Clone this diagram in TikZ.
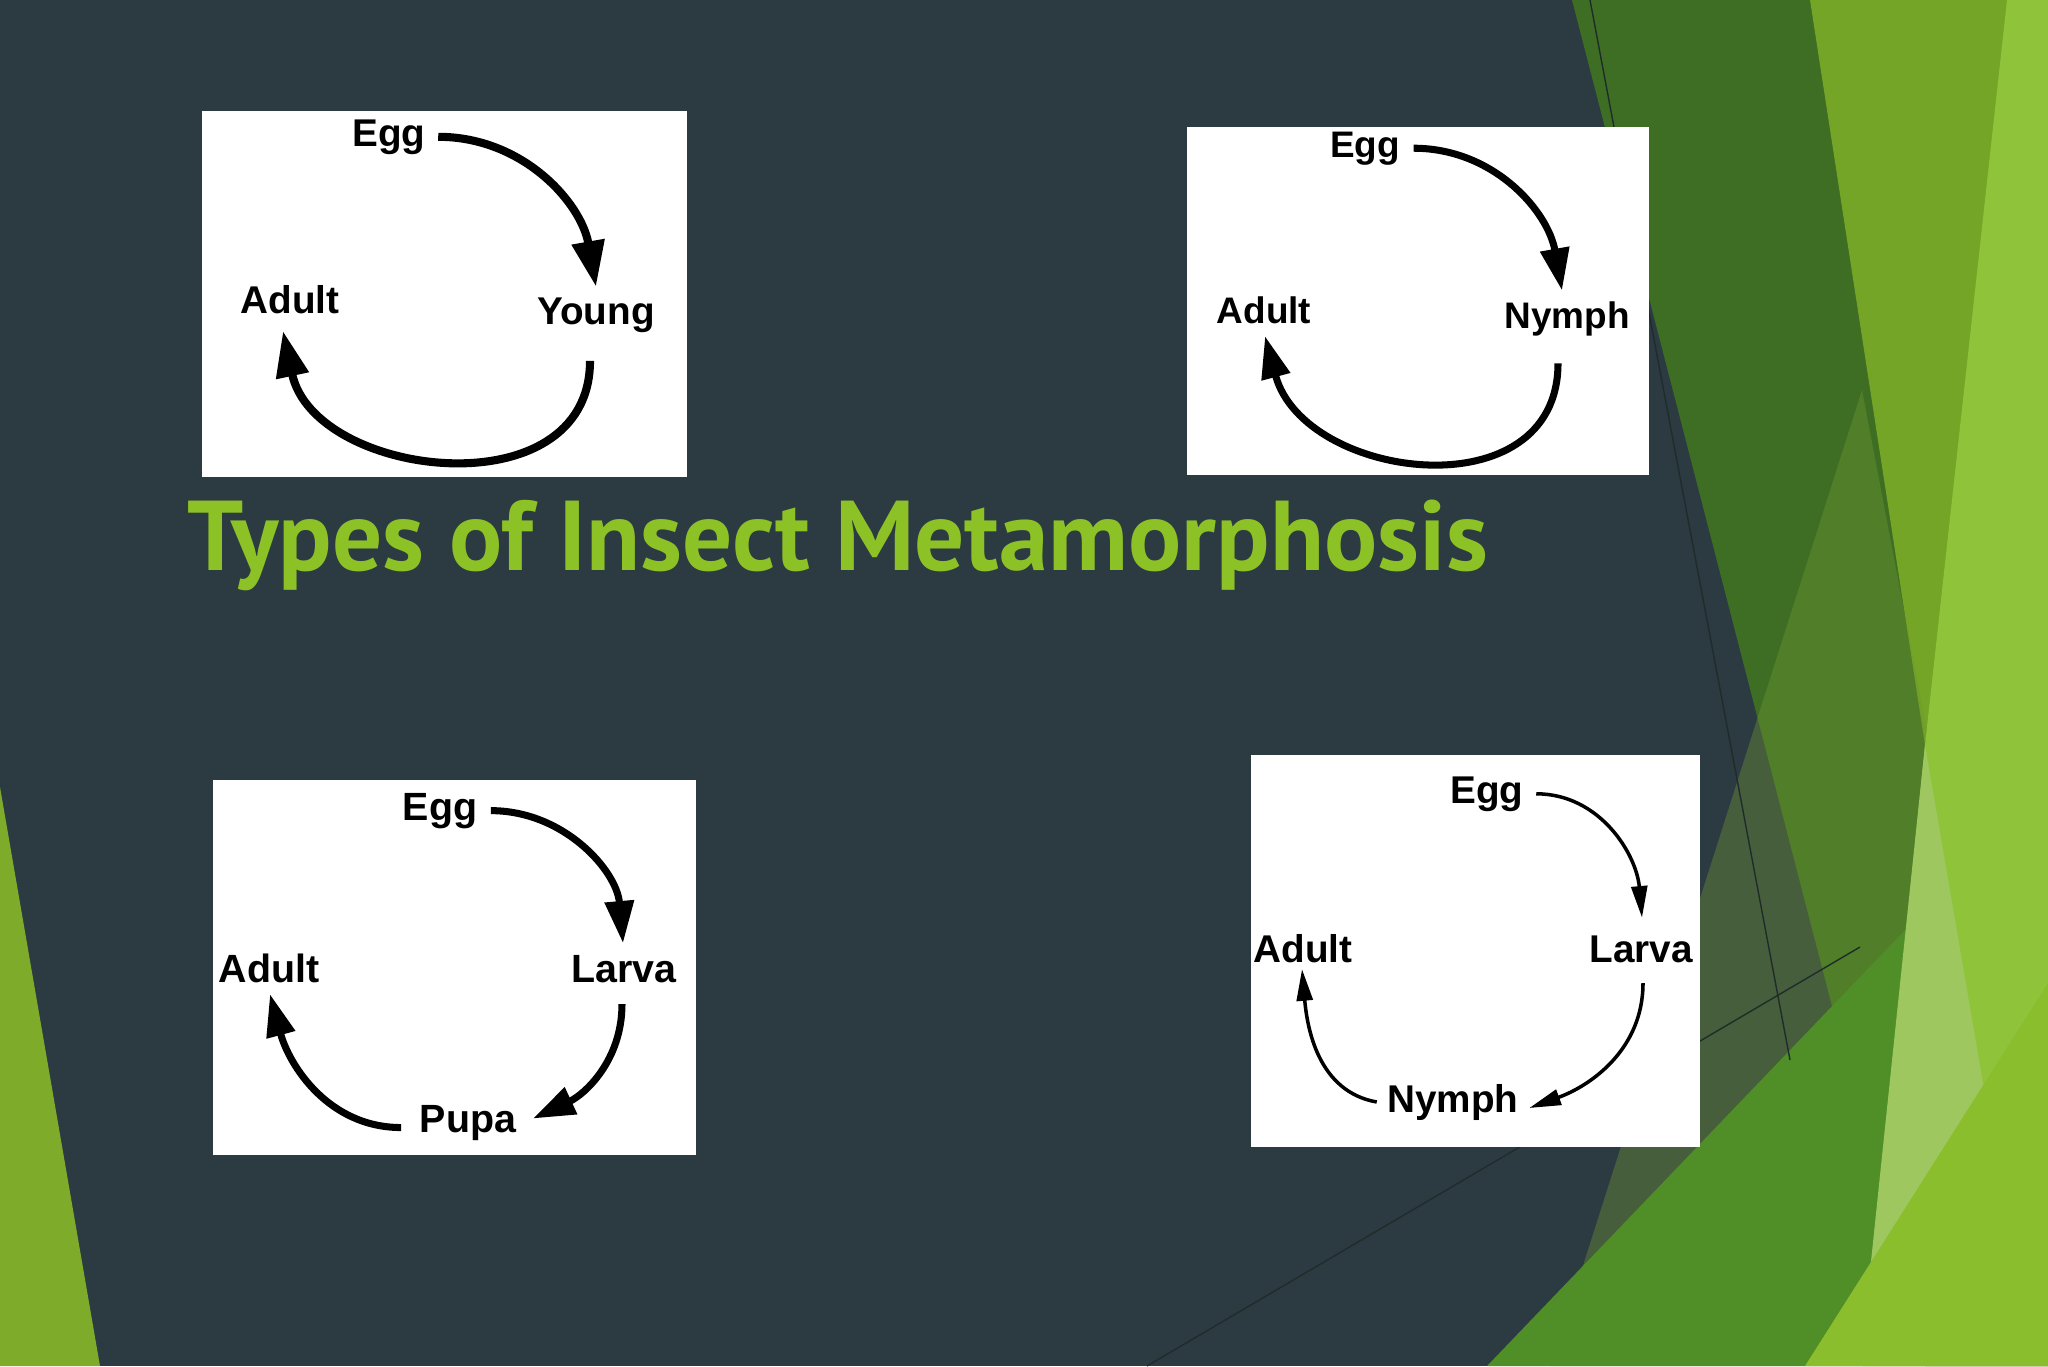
\documentclass[tikz,border=0pt]{standalone}
\usepackage{fontspec}
\setmainfont{Liberation Sans}
\newfontfamily\titlefont{PT Sans}
\usetikzlibrary{arrows.meta}

\definecolor{slate}{RGB}{44,58,66}
\definecolor{leftgreen}{RGB}{126,172,42}
\definecolor{darkgreen}{RGB}{62,110,35}
\definecolor{midgreen}{RGB}{116,165,38}
\definecolor{litegreen}{RGB}{143,195,58}
\definecolor{brightgreen}{RGB}{80,142,40}
\definecolor{palegreen}{RGB}{158,200,95}
\definecolor{lowgreen}{RGB}{139,190,45}
\definecolor{veilgreen}{RGB}{110,150,50}
\definecolor{titlegreen}{RGB}{141,194,38}
\definecolor{seam}{RGB}{32,44,42}

\begin{document}
\begin{tikzpicture}[x=0.01cm, y=0.01cm,
  lbl/.style={font=\bfseries\fontsize{#1}{#1}\selectfont, anchor=base},
  thickarr/.style={line width=2.3pt, -{Triangle[length=13pt,width=9pt]}},
  midarr/.style={line width=2pt, -{Triangle[length=12pt,width=8pt]}},
  thinarr/.style={line width=1pt, -{Triangle[length=9pt,width=4.5pt]}},
  seamline/.style={seam, line width=0.4pt}]
\tikzstyle{every node}+=[inner sep=0pt]
\useasboundingbox (0,0) rectangle (2048,-1366);
\fill [slate] (0,0) rectangle (2048,-1366);
\fill [leftgreen] (0,-787) -- (100,-1366) -- (0,-1366) -- cycle;
\fill [darkgreen] (1572,0) -- (2048,0) -- (2048,-1366) -- (1925,-1366) -- cycle;
\fill [midgreen] (1810,0) -- (2030,0) -- (1925,-745) -- cycle;
\fill [veilgreen, opacity=0.4] (1862,-390) -- (2048,-1366) -- (1551,-1366) -- cycle;
\fill [brightgreen] (1487,-1366) -- (2048,-781) -- (2048,-1366) -- cycle;
\fill [litegreen] (2007,0) -- (2048,0) -- (2048,-1366) -- (1863,-1366) -- (1925,-745) -- cycle;
\fill [palegreen] (1925,-745) -- (1985,-1095) -- (1868,-1290) -- cycle;
\fill [lowgreen] (1805,-1366) -- (2048,-983) -- (2048,-1366) -- cycle;
\draw [seamline] (1590,0) -- (1790,-1060);
\draw [seamline] (1147,-1366) -- (1860,-947);
\node [titlegreen, anchor=base west, font=\titlefont\bfseries\fontsize{28.2}{32}\selectfont] (title) at (187,-570) {Types of Insect Metamorphosis};
\fill [white] (202,-111) rectangle (687,-477);
\node [lbl=11] (egg1) at (389,-146) {Egg};
\node [lbl=11] (young1) at (596,-324) {Young};
\node [lbl=11] (adult1) at (290,-313) {Adult};
\draw [thickarr] (egg1.east) ++(12,0) to[out=0,in=100] ([shift={(0,10)}]young1.north);
\draw [thickarr] ([shift={(-6,-28)}]young1.south) to[out=-90,in=-78,looseness=1.25] ([shift={(-7,-17)}]adult1.south);
\fill [white] (1187,-127) rectangle (1649,-475);
\node [lbl=10.5] (egg2) at (1365,-157) {Egg};
\node [lbl=10.5] (nymph2) at (1567,-328) {Nymph};
\node [lbl=10.5] (adult2) at (1264,-323) {Adult};
\draw [midarr] (egg2.east) ++(13,0) to[out=0,in=100] ([shift={(-5,10)}]nymph2.north);
\draw [midarr] ([shift={(-9,-27)}]nymph2.south) to[out=-90,in=-75,looseness=1.3] ([shift={(1,-12)}]adult2.south);
\fill [white] (213,-780) rectangle (696,-1155);
\node [lbl=11.2] (egg3) at (440,-820) {Egg};
\node [lbl=11.2] (larva3) at (624,-982) {Larva};
\node [lbl=11.2] (pupa3) at (468,-1132) {Pupa};
\node [lbl=11.2] (adult3) at (269,-982) {Adult};
\draw [midarr] (egg3.east) ++(13,0) to[out=0,in=95] ([shift={(-1,11)}]larva3.north);
\draw [midarr] ([shift={(-2,-21)}]larva3.south) to[out=-90,in=25] ([shift={(16,4)}]pupa3.east);
\draw [midarr] ([shift={(-18,-5)}]pupa3.west) to[out=180,in=-75] ([shift={(1,-11)}]adult3.south);
\fill [white] (1251,-755) rectangle (1700,-1147);
\node [lbl=11] (egg4) at (1487,-803) {Egg};
\node [lbl=11] (larva4) at (1641,-962) {Larva};
\node [lbl=11] (nymph4) at (1453,-1112) {Nymph};
\node [lbl=11] (adult4) at (1303,-962) {Adult};
\draw [thinarr] (egg4.east) ++(12,0) to[out=0,in=95] ([shift={(1,17)}]larva4.north);
\draw [thinarr] ([shift={(2,-20)}]larva4.south) to[out=-90,in=20] ([shift={(10,-6)}]nymph4.east);
\draw [thinarr] ([shift={(-10,0)}]nymph4.west) to[out=170,in=-85] ([shift={(-1,-6)}]adult4.south);
\end{tikzpicture}
\end{document}
